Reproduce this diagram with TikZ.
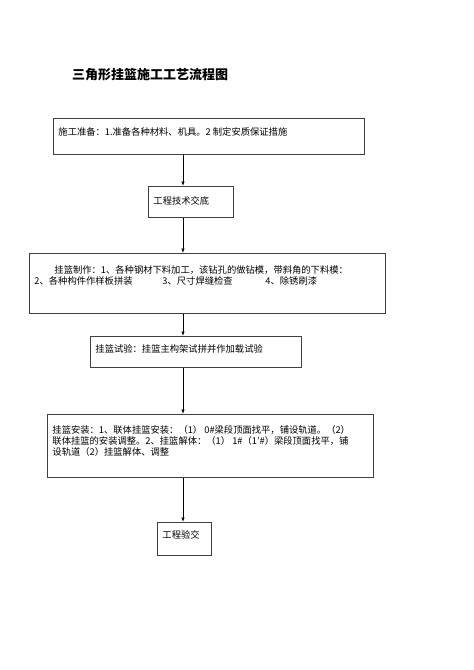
\documentclass[tikz,border=0pt]{standalone}
\usepackage{fontspec}
\setmainfont{Noto Sans CJK SC}
\usetikzlibrary{arrows.meta}

% text block inside a box: width, height, top gap, lines
\newcommand{\flowtext}[4]{\parbox[c][#2][t]{#1}{\raggedright\vspace*{#3}#4}}

\begin{document}
\begin{tikzpicture}[
  x=1pt, y=-1pt,
  box/.style={rectangle, draw=black!75, line width=0.9pt, anchor=north west,
    inner xsep=5pt, inner ysep=0pt, font=\fontsize{9.3}{11}\selectfont},
  title/.style={anchor=west, inner sep=0pt, font=\fontsize{13}{15}\selectfont\bfseries},
  arrow/.style={-{Latex[length=4.5pt,width=3.5pt]}, line width=0.8pt}
]
\useasboundingbox (0,0) rectangle (474,670);

% Title
\node[title] (heading) at (72,75) {三角形挂篮施工工艺流程图};

% Preparation
\node[box] (prep) at (53,118) {\flowtext{301pt}{36pt}{9pt}{%
  施工准备：1.准备各种材料、机具。2 制定安质保证措施}};

% Technical briefing
\node[box] (brief) at (148,186) {\flowtext{75pt}{31pt}{10pt}{%
  工程技术交底}};

% Fabrication
\node[box] (fabric) at (29,253) {\flowtext{346pt}{60pt}{12pt}{%
  \hspace*{20pt}挂篮制作：1、各种钢材下料加工，该钻孔的做钻模，带斜角的下料模：\\
  \makebox[128pt][l]{2、各种构件作样板拼装}\makebox[103pt][l]{3、尺寸焊缝检查}4、除锈刷漆}};

% Trial
\node[box] (trial) at (90,336) {\flowtext{201pt}{31pt}{8pt}{%
  挂篮试验：挂篮主构架试拼并作加载试验}};

% Installation
\node[box] (install) at (47,414) {\flowtext{316pt}{63pt}{11pt}{%
  挂篮安装：1、联体挂篮安装：（1） 0\#梁段顶面找平，铺设轨道。（2）\\
  联体挂篮的安装调整。2、挂篮解体：（1） 1\#（1′\#）梁段顶面找平，铺\\
  设轨道（2）挂篮解体、调整}};

% Acceptance
\node[box] (accept) at (157,522) {\flowtext{44pt}{33pt}{8pt}{%
  工程验交}};

% Arrows
\coordinate (spine) at (183,0);
\draw[arrow] (prep.south -| spine) -- (brief.north -| spine);
\draw[arrow] (brief.south -| spine) -- (fabric.north -| spine);
\draw[arrow] (fabric.south -| spine) -- (trial.north -| spine);
\draw[arrow] (trial.south -| spine) -- (install.north -| spine);
\draw[arrow] (install.south -| spine) -- (accept.north -| spine);

\end{tikzpicture}
\end{document}
